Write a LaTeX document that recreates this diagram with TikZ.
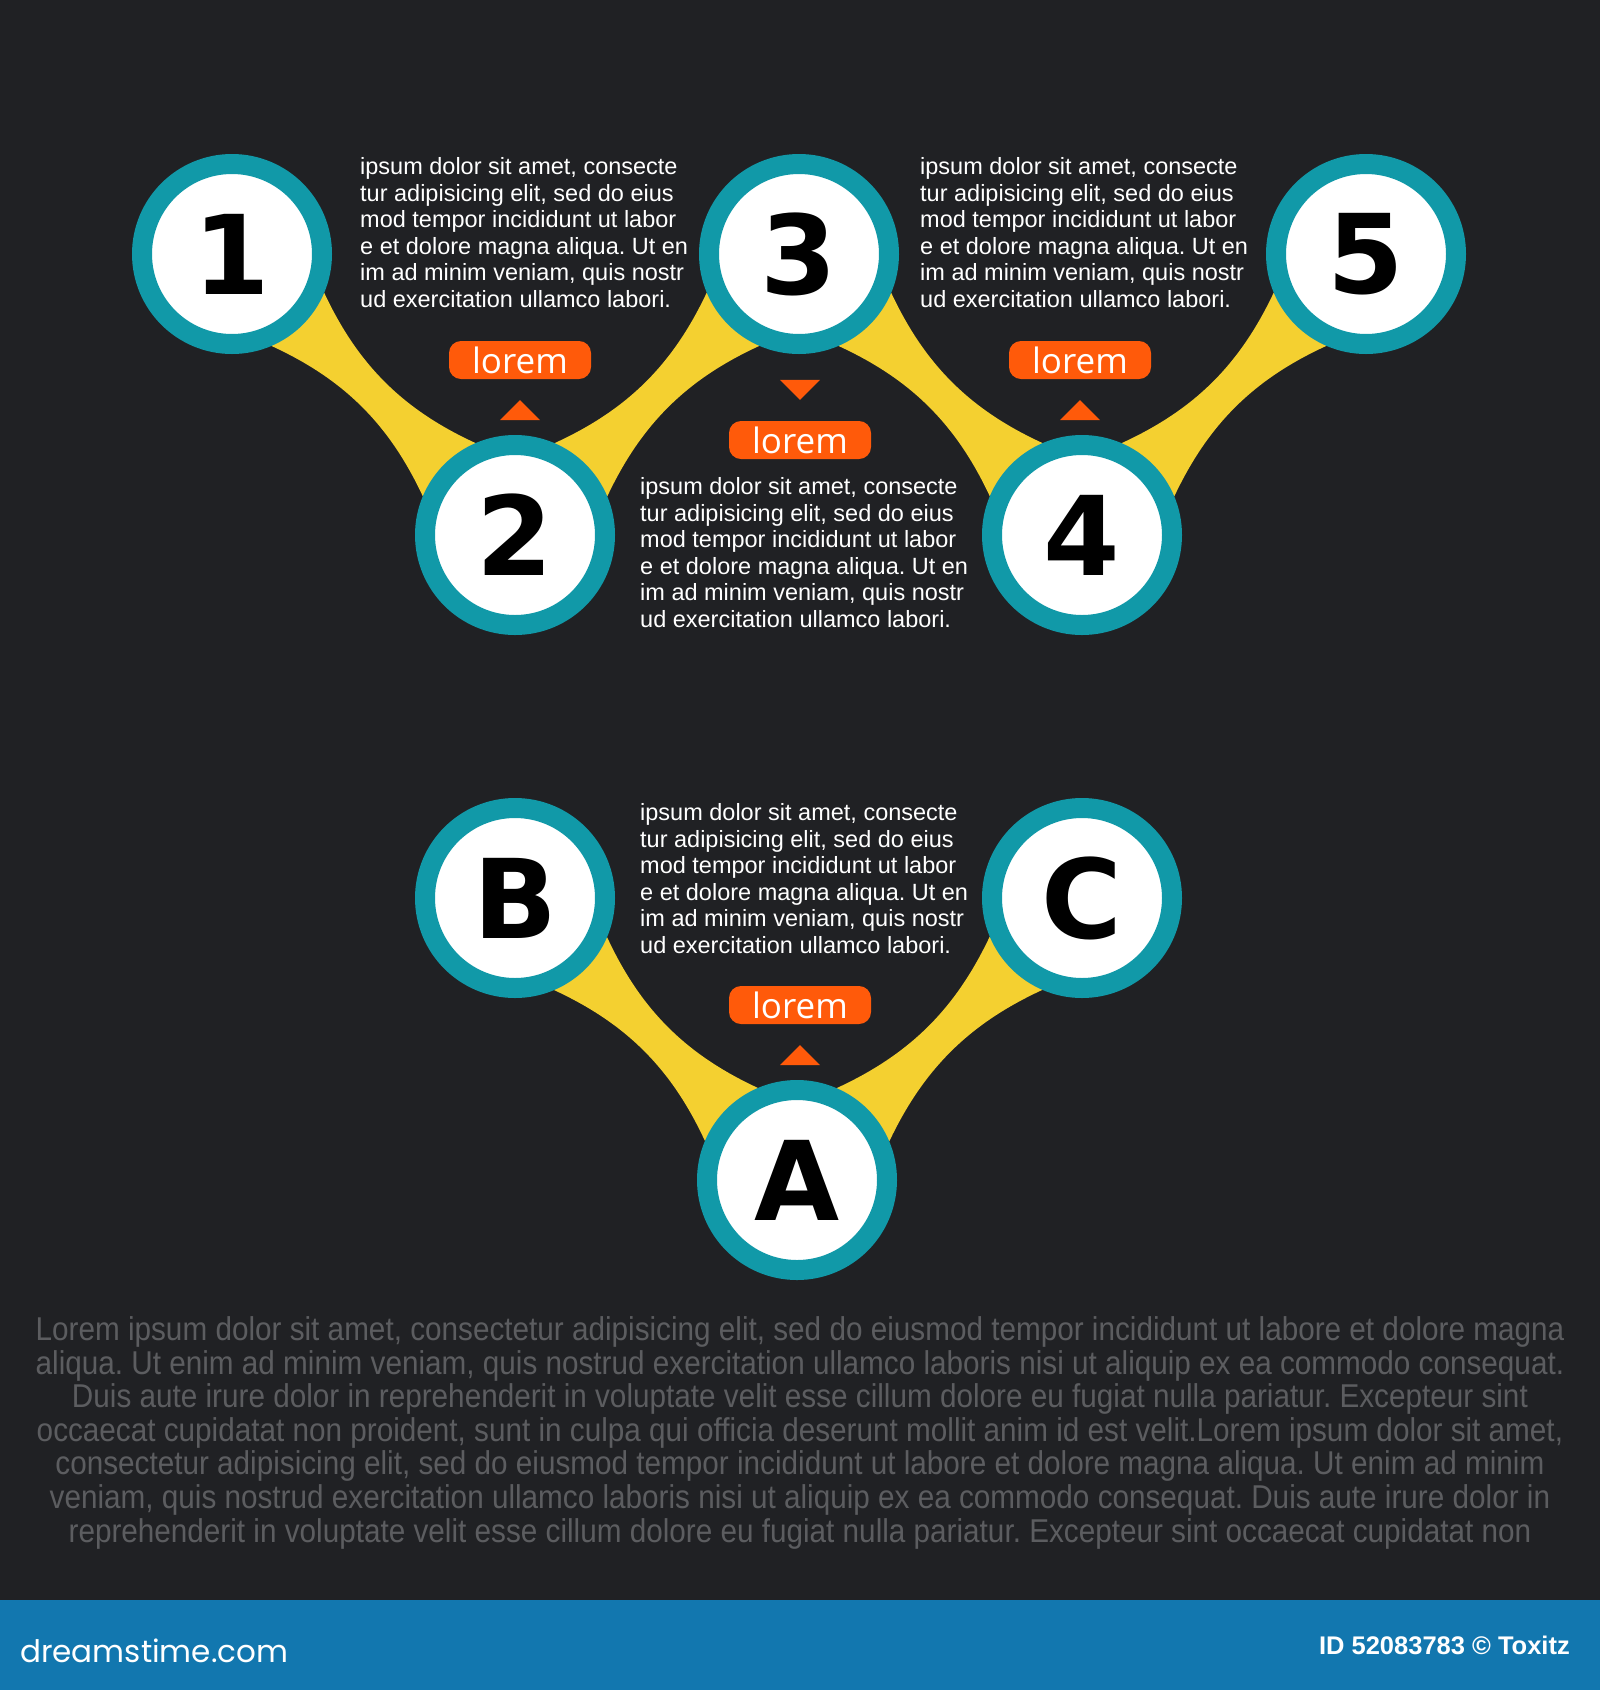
\documentclass[tikz,border=0pt]{standalone}
\usepackage{fontspec}
\setmainfont{Liberation Sans}
\newfontfamily\badgefont{Open Sans}
\newfontfamily\numfont{DejaVu Sans}
\newfontfamily\logofont{Poppins}
\newfontfamily\parafont{Liberation Sans}[FakeStretch=0.9]
\usetikzlibrary{positioning, calc}

\definecolor{bgdark}{HTML}{202124}
\definecolor{ringteal}{HTML}{1199A8}
\definecolor{bandyellow}{HTML}{F4D030}
\definecolor{lorange}{HTML}{FF5A0A}
\definecolor{paragray}{HTML}{5C5D60}
\definecolor{barblue}{HTML}{1277AF}

\pgfdeclarelayer{bg}
\pgfsetlayers{bg,main}

\tikzset{
  ring/.style={
    circle, fill=white, draw=ringteal,
    line width=20pt, % teal rim, outer radius 100pt
    minimum size=180pt, inner sep=0pt,
    font=\numfont\bfseries\fontsize{110pt}{110pt}\selectfont
  },
  band/.style={fill=bandyellow},
  lorem/.style={
    rectangle, rounded corners=12pt, fill=lorange,
    minimum width=142pt, minimum height=38pt, inner sep=0pt,
    text=white, font=\badgefont\fontsize{35pt}{35pt}\selectfont
  },
  tipfill/.style={fill=lorange},
  blurb/.style={
    align=left, inner sep=0pt, text=white,
    font=\fontsize{23.5pt}{26.5pt}\selectfont
  },
}

% yellow waisted link between two rings
\newcommand{\yband}[2]{%
  \fill[band] ($(#1)!100pt!22:(#2)$)
    .. controls ($(#1)!0.42!(#2)!10pt!90:(#2)$) and ($(#1)!0.58!(#2)!10pt!90:(#2)$)
    .. ($(#2)!100pt!-22:(#1)$)
    -- ($(#2)!100pt!22:(#1)$)
    .. controls ($(#1)!0.58!(#2)!10pt!-90:(#2)$) and ($(#1)!0.42!(#2)!10pt!-90:(#2)$)
    .. ($(#1)!100pt!-22:(#2)$) -- cycle;}

\newcommand{\loremblock}{ipsum dolor sit amet, consecte\\tur adipisicing elit, sed do eius\\mod tempor incididunt ut labor\\e et dolore magna aliqua. Ut en\\im ad minim veniam, quis nostr\\ud exercitation ullamco labori.}

\frenchspacing
\begin{document}
\begin{tikzpicture}[x=1pt, y=-1pt, on grid]
		\useasboundingbox (0,0) rectangle (1600,1690);
		\begin{pgfonlayer}{bg}
			\fill[bgdark] (0,0) rectangle (1600,1690);
		\end{pgfonlayer}
		% zigzag row 1-5
		\node[ring] (c1) at (232,254) {1};
		\node[ring, below right=281pt and 283pt of c1] (c2) {2};
		\node[ring, above right=281pt and 284pt of c2] (c3) {3};
		\node[ring, below right=281pt and 283pt of c3] (c4) {4};
		\node[ring, above right=281pt and 284pt of c4] (c5) {5};
		% fork B-A-C
		\node[ring, below=363pt of c2] (cb) {B};
		\node[ring, below=363pt of c4] (cc) {C};
		\node[ring, below right=282pt and 282pt of cb] (ca) {A};
		\begin{pgfonlayer}{bg}
			\yband{c1}{c2}
			\yband{c3}{c2}
			\yband{c3}{c4}
			\yband{c5}{c4}
			\yband{cb}{ca}
			\yband{cc}{ca}
		\end{pgfonlayer}
		% text blocks (base = last line)
		\node[blurb, anchor=base west] (t1) at (360,307) {\loremblock};
		\node[blurb, anchor=base west] (t2) at (920,307) {\loremblock};
		\node[blurb, anchor=base west] (t3) at (640,627) {\loremblock};
		\node[blurb, anchor=base west] (t4) at (640,953) {\loremblock};
		% lorem badges with their tips
		\node[lorem] (l1) at (520,360) {lorem};
		\coordinate[below=21pt of l1.south] (p1);
		\fill[tipfill] (p1) -- ++(20pt,-20pt) -- ++(-40pt,0pt) -- cycle;
		\node[lorem] (l3) at (800,440) {lorem};
		\coordinate[above=21pt of l3.north] (p3);
		\fill[tipfill] (p3) -- ++(20pt,20pt) -- ++(-40pt,0pt) -- cycle;
		\node[lorem] (l4) at (1080,360) {lorem};
		\coordinate[below=21pt of l4.south] (p4);
		\fill[tipfill] (p4) -- ++(20pt,-20pt) -- ++(-40pt,0pt) -- cycle;
		\node[lorem] (la) at (800,1005) {lorem};
		\coordinate[below=21pt of la.south] (pa);
		\fill[tipfill] (pa) -- ++(20pt,-20pt) -- ++(-40pt,0pt) -- cycle;
		% bottom paragraph
		\node[align=center, inner sep=0pt, text=paragray, anchor=base,
			font=\parafont\fontsize{33pt}{33.6pt}\selectfont] (para) at (800,1542)
			{Lorem ipsum dolor sit amet, consectetur adipisicing elit, sed do eiusmod tempor incididunt ut labore et dolore magna\\
			aliqua. Ut enim ad minim veniam, quis nostrud exercitation ullamco laboris nisi ut aliquip ex ea commodo consequat.\\
			Duis aute irure dolor in reprehenderit in voluptate velit esse cillum dolore eu fugiat nulla pariatur. Excepteur sint\\
			occaecat cupidatat non proident, sunt in culpa qui officia deserunt mollit anim id est velit.Lorem ipsum dolor sit amet,\\
			consectetur adipisicing elit, sed do eiusmod tempor incididunt ut labore et dolore magna aliqua. Ut enim ad minim\\
			veniam, quis nostrud exercitation ullamco laboris nisi ut aliquip ex ea commodo consequat. Duis aute irure dolor in\\
			reprehenderit in voluptate velit esse cillum dolore eu fugiat nulla pariatur. Excepteur sint occaecat cupidatat non};
		% footer bar
		\fill[barblue] (0,1600) rectangle (1600,1690);
		\node[anchor=base west, inner sep=0pt, text=white,
			font=\logofont\fontsize{31pt}{31pt}\selectfont] (logo) at (20,1662) {dreamstime.com};
		\node[anchor=base east, inner sep=0pt, text=white,
			font=\bfseries\fontsize{25.5pt}{25.5pt}\selectfont] (imgid) at (1570,1654) {ID 52083783 © Toxitz};
	\end{tikzpicture}
\end{document}
